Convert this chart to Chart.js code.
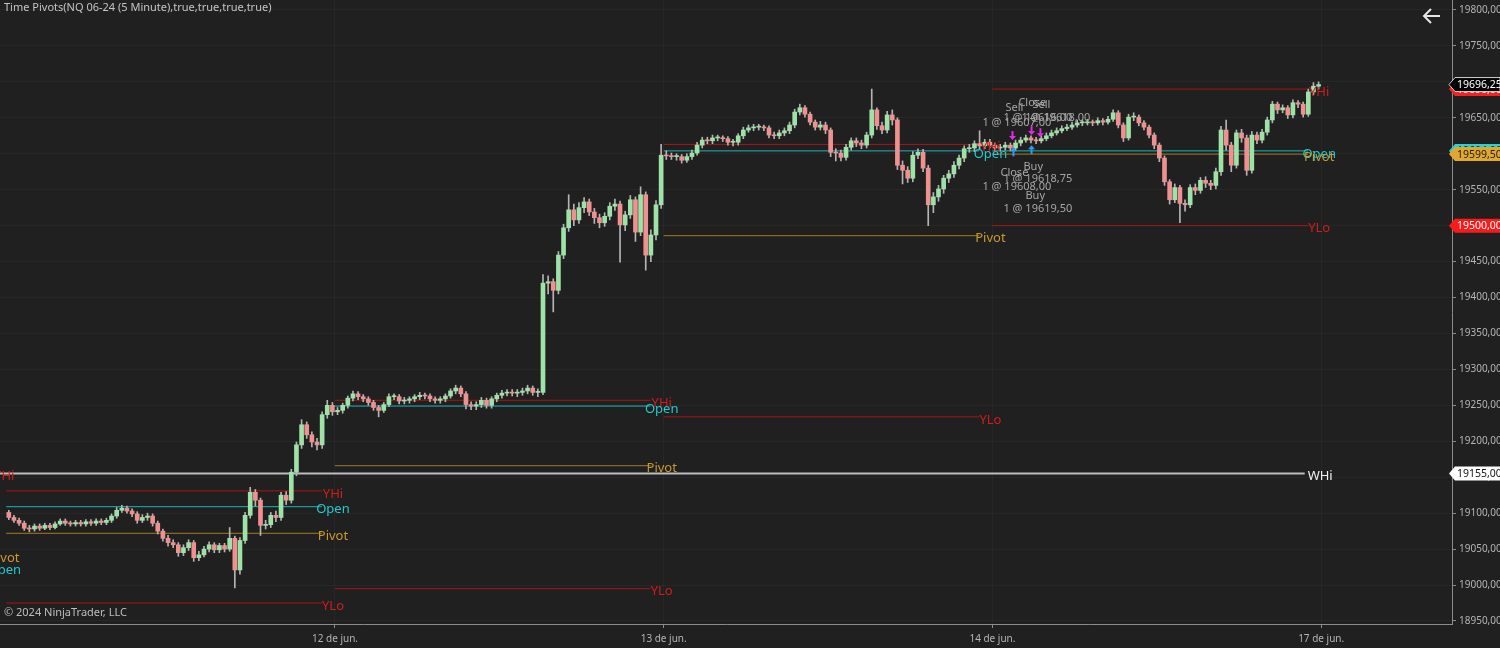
<!DOCTYPE html>
<html>
<head>
<meta charset="utf-8">
<script src="https://cdn.jsdelivr.net/npm/chart.js@4.4.1/dist/chart.umd.min.js"></script>
<style>
  html, body { margin: 0; background: #202020; overflow: hidden; }
</style>
</head>
<body>
<canvas id="chart" width="1500" height="648"></canvas>
<script>
// Header texts
const title = 'Time Pivots(NQ 06-24 (5 Minute),true,true,true,true)';
const copyright = '© 2024 NinjaTrader, LLC';

// X axis (one unit = one trading session)
const dayTicks = [1, 2, 3, 4];
const dayLabels = ['12 de jun.', '13 de jun.', '14 de jun.', '17 de jun.'];
const barsPerDay = 64;

// Y axis
const yTicks = [18950, 19000, 19050, 19100, 19150, 19200, 19250, 19300, 19350, 19400,
  19450, 19500, 19550, 19600, 19650, 19700, 19750, 19800];

// Candles (open of each bar = close of previous bar)
const firstOpen = 19101;
const close11 = [19094,19090,19086,19079,19078,19082,19079,19083,19080,19085,
  19089,19086,19085,19087,19085,19088,19086,19089,19087,19090,
  19096,19104,19107,19103,19099,19090,19094,19096,19086,19075,
  19065,19059,19056,19045,19052,19059,19038,19042,19050,19056,
  19049,19055,19050,19065,19021,19062,19097,19129,19118,19083,
  19084,19097,19094,19125,19118,19157,19195,19223,19209,19199,
  19195,19237,19250,19241];
const high11 = [19104,19097,19093,19089,19083,19085,19085,19086,19086,19088,
  19092,19092,19089,19090,19090,19091,19091,19092,19092,19093,
  19099,19108,19111,19110,19106,19102,19098,19100,19099,19089,
  19078,19069,19063,19059,19056,19063,19062,19047,19054,19060,
  19059,19058,19058,19080,19068,19066,19101,19136,19133,19121,
  19090,19101,19103,19129,19130,19161,19199,19230,19227,19213,
  19204,19241,19257,19254];
const low11 = [19091,19087,19083,19076,19074,19075,19076,19077,19077,19078,
  19083,19083,19082,19082,19082,19082,19083,19083,19084,19084,
  19087,19093,19101,19100,19095,19086,19087,19090,19082,19071,
  19061,19054,19052,19040,19041,19048,19033,19034,19039,19046,
  19045,19045,19046,19047,18996,19015,19058,19093,19110,19069,
  19078,19080,19088,19090,19112,19114,19152,19190,19204,19192,
  19188,19190,19232,19236];

const close12 = [19243,19250,19260,19266,19262,19259,19254,19247,19243,19251,
  19262,19262,19256,19257,19259,19262,19264,19263,19259,19257,
  19259,19263,19270,19274,19266,19251,19249,19251,19257,19250,
  19259,19264,19267,19268,19267,19268,19270,19274,19268,19268,
  19420,19422,19410,19459,19497,19522,19508,19525,19533,19519,
  19511,19504,19513,19527,19530,19501,19515,19536,19491,19543,
  19459,19487,19529,19598];
const high12 = [19247,19253,19263,19270,19269,19265,19262,19257,19250,19254,
  19266,19266,19265,19261,19262,19265,19268,19267,19266,19262,
  19262,19266,19273,19278,19277,19269,19255,19255,19261,19260,
  19262,19267,19271,19272,19272,19272,19274,19278,19277,19273,
  19432,19430,19426,19464,19502,19543,19530,19532,19539,19537,
  19524,19516,19518,19532,19537,19534,19520,19542,19540,19554,
  19547,19494,19535,19613];
const low12 = [19237,19239,19246,19256,19258,19255,19250,19243,19234,19240,
  19248,19258,19252,19252,19253,19255,19258,19259,19255,19253,
  19253,19255,19260,19266,19262,19245,19244,19244,19247,19246,
  19246,19255,19260,19263,19263,19262,19264,19266,19264,19262,
  19265,19405,19380,19405,19454,19492,19500,19503,19518,19514,
  19503,19497,19499,19508,19521,19449,19493,19510,19478,19486,
  19438,19450,19480,19524];

const close13 = [19597,19596,19596,19591,19596,19601,19612,19619,19618,19622,
  19622,19621,19616,19616,19625,19633,19636,19637,19637,19636,
  19626,19625,19629,19632,19640,19658,19664,19655,19644,19637,
  19640,19633,19602,19601,19595,19609,19618,19615,19612,19626,
  19661,19639,19633,19654,19647,19584,19577,19566,19598,19602,
  19580,19529,19540,19551,19566,19572,19584,19594,19607,19608,
  19614,19611,19616,19612];
const high13 = [19604,19601,19600,19599,19600,19605,19616,19623,19623,19626,
  19626,19625,19624,19620,19628,19637,19640,19641,19641,19640,
  19639,19630,19633,19636,19644,19662,19669,19667,19658,19647,
  19645,19644,19636,19607,19605,19613,19622,19622,19619,19630,
  19690,19664,19644,19659,19661,19650,19590,19582,19603,19607,
  19606,19584,19546,19556,19570,19577,19589,19598,19611,19613,
  19618,19632,19620,19620];
const low13 = [19592,19592,19591,19587,19588,19592,19598,19608,19614,19614,
  19618,19617,19612,19611,19612,19621,19630,19632,19633,19632,
  19622,19621,19621,19625,19628,19636,19654,19651,19640,19633,
  19633,19628,19596,19590,19590,19591,19605,19610,19607,19608,
  19622,19634,19628,19629,19640,19578,19558,19560,19561,19593,
  19575,19500,19518,19534,19545,19560,19567,19579,19589,19602,
  19603,19606,19607,19608];

const close14 = [19608,19609,19612,19608,19615,19619,19622,19619,19618,19621,
  19625,19629,19632,19635,19637,19640,19643,19643,19644,19643,
  19646,19644,19648,19657,19640,19622,19651,19651,19643,19637,
  19626,19612,19594,19561,19536,19553,19531,19529,19553,19549,
  19563,19559,19556,19575,19633,19612,19584,19629,19622,19577,
  19626,19619,19630,19647,19669,19661,19664,19654,19671,19669,
  19655,19686,19694,19696.25];
const high14 = [19615,19613,19616,19615,19619,19623,19626,19625,19623,19625,
  19629,19633,19636,19639,19641,19644,19647,19647,19648,19647,
  19650,19649,19652,19661,19660,19643,19655,19657,19654,19646,
  19640,19629,19615,19597,19564,19558,19556,19536,19557,19558,
  19567,19568,19563,19580,19638,19647,19616,19633,19634,19626,
  19631,19630,19634,19651,19673,19672,19668,19667,19675,19674,
  19672,19690,19699,19700];
const low14 = [19604,19604,19605,19604,19605,19611,19616,19615,19614,19615,
  19618,19622,19626,19629,19632,19634,19637,19639,19640,19639,
  19640,19640,19641,19645,19636,19617,19619,19646,19639,19633,
  19622,19607,19589,19556,19530,19532,19504,19520,19525,19543,
  19545,19553,19550,19551,19570,19605,19575,19580,19616,19570,
  19573,19614,19615,19626,19643,19656,19657,19649,19650,19664,
  19651,19652,19682,19690];

// Time pivot levels per session (session 0 = the one before 11 jun)
const sessionEnds = [0, 1, 2, 3, 4];
const yHiLevels = [19155, 19131, 19257, 19613, 19690];
const openLevels = [19024, 19109, 19249, 19604, 19604];
const pivotLevels = [19042, 19072, 19166, 19486, 19599.5];
const yLoLevels = [null, 18975, 18995, 19234, 19500];
const weekHigh = 19155;

// Executions
const sellTimes = [3.061, 3.119, 3.146];
const sellPrices = [19619, 19626, 19623];
const buyTimes = [3.064, 3.119];
const buyPrices = [19609, 19612];
const tradeTexts = ['Sell', 'Close', 'Sell', '1 @ 19607,00', '1 @ 19616,00', '1 @ 19618,00',
  'Buy', 'Close', '1 @ 19618,75', '1 @ 19608,00', 'Buy', '1 @ 19619,50'];
const tradeTextTimes = [3.0396, 3.079, 3.1217, 2.9696, 3.0335, 3.0882,
  3.0943, 3.0243, 3.0335, 2.9696, 3.1004, 3.0335];
const tradeTextPrices = [19664, 19671, 19668, 19643, 19650, 19650,
  19582, 19573, 19565, 19554, 19541, 19524];

// Price markers on the axis
const lastPrice = close14[close14.length - 1];

// ---------------------------------------------------------------

const FONT = '"Noto Sans", "DejaVu Sans", sans-serif';
const fmt = v => v.toFixed(2).replace('.', ',');

const levelStyle = {
  YHi:   { line: '#a51616', text: '#d41c1c' },
  Open:  { line: '#1fb4b8', text: '#22c9cf' },
  Pivot: { line: '#a37d22', text: '#c99a2e' },
  YLo:   { line: '#a51616', text: '#d41c1c' },
  WHi:   { line: '#bdbdbd', text: '#f0f0f0' }
};
const levelSets = [
  ['YHi', yHiLevels], ['Open', openLevels], ['Pivot', pivotLevels], ['YLo', yLoLevels]
];

// Build candles
const closes = [...close11, ...close12, ...close13, ...close14];
const highs = [...high11, ...high12, ...high13, ...high14];
const lows = [...low11, ...low12, ...low13, ...low14];
const candles = closes.map((c, i) => ({
  t: (i + 0.5) / barsPerDay,
  o: i ? closes[i - 1] : firstOpen,
  h: highs[i], l: lows[i], c
}));

const datasets = [];

// Level lines
levelSets.forEach(([name, values]) => {
  values.forEach((v, k) => {
    if (v === null) return;
    const start = k === 0 ? -1 : sessionEnds[k - 1];
    datasets.push({
      type: 'line',
      data: [{ x: start, y: v }, { x: sessionEnds[k] - 0.04, y: v }],
      borderColor: levelStyle[name].line,
      borderWidth: 1,
      pointRadius: 0,
      order: 5
    });
  });
});
datasets.push({
  type: 'line',
  data: [{ x: -1, y: weekHigh }, { x: sessionEnds[4] - 0.05, y: weekHigh }],
  borderColor: levelStyle.WHi.line,
  borderWidth: 2,
  pointRadius: 0,
  order: 5
});

// Wicks and bodies
datasets.push({
  type: 'bar',
  data: candles.map(d => ({ x: d.t, y: [d.l, d.h] })),
  backgroundColor: '#b4b4b4',
  barThickness: 1,
  grouped: false,
  order: 2
});
datasets.push({
  type: 'bar',
  data: candles.map(d => ({ x: d.t, y: [d.o, d.c] })),
  backgroundColor: candles.map(d => d.c >= d.o ? '#9fe2a8' : '#ef9191'),
  barThickness: 4,
  minBarLength: 1,
  grouped: false,
  order: 1
});

// Drawing helpers
function drawTag(ctx, y, value, fill, textColor, stroke) {
  const x0 = 1449, h = 14;
  ctx.beginPath();
  ctx.moveTo(x0, y);
  ctx.lineTo(x0 + 6, y - h / 2);
  ctx.lineTo(1500, y - h / 2);
  ctx.lineTo(1500, y + h / 2);
  ctx.lineTo(x0 + 6, y + h / 2);
  ctx.closePath();
  ctx.fillStyle = fill;
  ctx.fill();
  if (stroke) { ctx.strokeStyle = stroke; ctx.lineWidth = 1; ctx.stroke(); }
  ctx.fillStyle = textColor;
  ctx.font = '10.5px ' + FONT;
  ctx.textAlign = 'left';
  ctx.textBaseline = 'middle';
  ctx.fillText(fmt(value), x0 + 8, y + 0.5);
}

const overlay = {
  id: 'overlay',
  beforeDraw(chart) {
    const ctx = chart.ctx;
    ctx.save();
    ctx.fillStyle = '#202020';
    ctx.fillRect(0, 0, chart.width, chart.height);
    ctx.restore();
  },
  afterDatasetsDraw(chart) {
    const { ctx, chartArea: a, scales: { x, y } } = chart;
    ctx.save();
    ctx.beginPath();
    ctx.rect(a.left, a.top, a.right - a.left, a.bottom - a.top);
    ctx.clip();

    // level labels, centred on the session end
    ctx.font = '13px ' + FONT;
    ctx.textAlign = 'center';
    ctx.textBaseline = 'middle';
    levelSets.forEach(([name, values]) => {
      values.forEach((v, k) => {
        if (v === null) return;
        ctx.fillStyle = levelStyle[name].text;
        ctx.fillText(name, x.getPixelForValue(sessionEnds[k]) - 2, y.getPixelForValue(v) + 3);
      });
    });
    ctx.fillStyle = levelStyle.WHi.text;
    ctx.fillText('WHi', x.getPixelForValue(sessionEnds[4]) - 1, y.getPixelForValue(weekHigh) + 3);

    // execution arrows
    ctx.lineWidth = 2;
    sellTimes.forEach((t, i) => {
      const px = x.getPixelForValue(t), py = y.getPixelForValue(sellPrices[i]);
      ctx.strokeStyle = ctx.fillStyle = '#e629e6';
      ctx.beginPath(); ctx.moveTo(px, py - 9); ctx.lineTo(px, py - 3); ctx.stroke();
      ctx.beginPath(); ctx.moveTo(px - 3.5, py - 4); ctx.lineTo(px + 3.5, py - 4); ctx.lineTo(px, py); ctx.fill();
    });
    buyTimes.forEach((t, i) => {
      const px = x.getPixelForValue(t), py = y.getPixelForValue(buyPrices[i]);
      ctx.strokeStyle = ctx.fillStyle = '#2f9cf0';
      ctx.beginPath(); ctx.moveTo(px, py + 9); ctx.lineTo(px, py + 3); ctx.stroke();
      ctx.beginPath(); ctx.moveTo(px - 3.5, py + 4); ctx.lineTo(px + 3.5, py + 4); ctx.lineTo(px, py); ctx.fill();
    });

    // execution texts
    ctx.font = '11px ' + FONT;
    ctx.textAlign = 'left';
    ctx.fillStyle = '#a6a6a6';
    tradeTexts.forEach((s, i) => {
      ctx.fillText(s, x.getPixelForValue(tradeTextTimes[i]), y.getPixelForValue(tradeTextPrices[i]));
    });
    ctx.restore();
  },
  afterDraw(chart) {
    const { ctx, scales: { y } } = chart;
    ctx.save();
    // axis price markers
    drawTag(ctx, y.getPixelForValue(yHiLevels[4]), yHiLevels[4], '#ff1f1f', '#ffffff');
    drawTag(ctx, y.getPixelForValue(lastPrice), lastPrice, '#000000', '#ffffff', '#d0d0d0');
    drawTag(ctx, y.getPixelForValue(openLevels[4]), openLevels[4], '#2ad2d6', '#202020');
    drawTag(ctx, y.getPixelForValue(pivotLevels[4]), pivotLevels[4], '#e1a82d', '#202020');
    drawTag(ctx, y.getPixelForValue(yLoLevels[4]), yLoLevels[4], '#ff1a1a', '#ffffff');
    drawTag(ctx, y.getPixelForValue(weekHigh), weekHigh, '#ffffff', '#111111');

    // title and copyright
    ctx.font = '11px ' + FONT;
    ctx.textAlign = 'left';
    ctx.textBaseline = 'middle';
    ctx.fillStyle = '#c4c4c4';
    ctx.fillText(title, 4, 8);
    ctx.fillStyle = '#bdbdbd';
    ctx.fillText(copyright, 4, 613);

    // back arrow
    ctx.strokeStyle = '#e6e6e6';
    ctx.lineWidth = 2;
    ctx.beginPath();
    ctx.moveTo(1440, 16); ctx.lineTo(1424, 16);
    ctx.moveTo(1431, 9); ctx.lineTo(1424, 16); ctx.lineTo(1431, 23);
    ctx.stroke();
    ctx.restore();
  }
};

new Chart(document.getElementById('chart').getContext('2d'), {
  type: 'bar',
  data: { datasets },
  options: {
    responsive: false,
    animation: false,
    layout: { padding: 0 },
    plugins: { legend: { display: false }, tooltip: { enabled: false } },
    scales: {
      x: {
        type: 'linear',
        min: -0.019,
        max: 4.398,
        offset: false,
        afterBuildTicks: s => { s.ticks = dayTicks.map(v => ({ value: v })); },
        afterFit: s => { s.height = 24; s.paddingLeft = 0; s.paddingRight = 0; },
        ticks: {
          callback: v => dayLabels[dayTicks.indexOf(v)],
          color: '#b4b4b4',
          font: { family: FONT, size: 10 },
          padding: 5,
          maxRotation: 0,
          autoSkip: false
        },
        grid: { offset: false, color: 'rgba(255,255,255,0.035)', tickColor: '#8c8c8c', tickLength: 4 },
        border: { color: '#8c8c8c' }
      },
      y: {
        position: 'right',
        min: 18945.8,
        max: 19813.9,
        afterBuildTicks: s => { s.ticks = yTicks.map(v => ({ value: v })); },
        afterFit: s => { s.width = 48; s.paddingTop = 0; s.paddingBottom = 0; },
        ticks: {
          callback: v => fmt(v),
          color: '#b4b4b4',
          font: { family: FONT, size: 10 },
          padding: 3,
          autoSkip: false
        },
        grid: { offset: false, color: 'rgba(255,255,255,0.035)', tickColor: '#8c8c8c', tickLength: 4 },
        border: { color: '#8c8c8c' }
      }
    }
  },
  plugins: [overlay]
});
</script>
</body>
</html>
